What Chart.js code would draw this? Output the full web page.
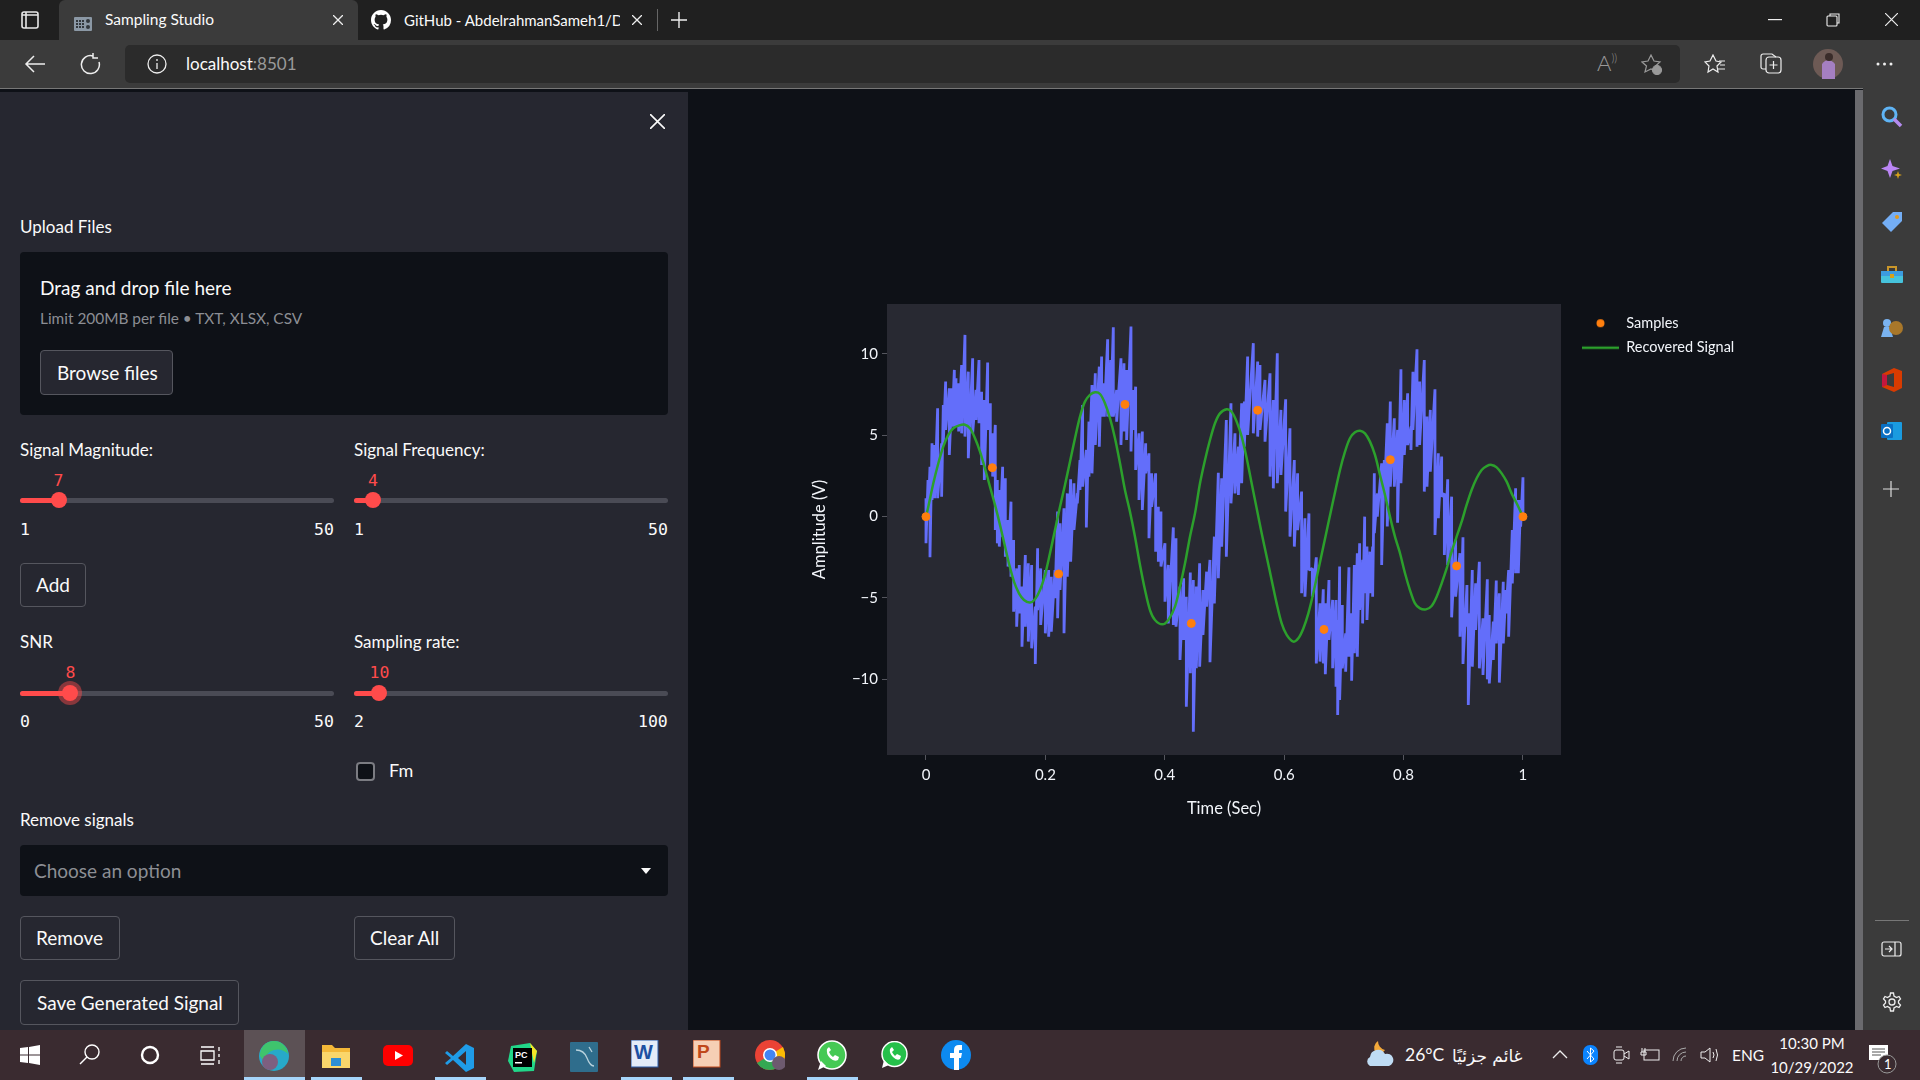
<!DOCTYPE html>
<html>
<head>
<meta charset="utf-8">
<title>Sampling Studio</title>
<script src="https://cdn.jsdelivr.net/npm/chart.js@4"></script>
<style>
html,body{margin:0;padding:0;width:1920px;height:1080px;overflow:hidden;background:#0e1117;font-family:Lato,"Noto Sans",sans-serif;color:#fafafa}
div,svg,canvas{position:absolute}
.t{position:absolute;white-space:nowrap;transform:translateY(-50%);font-size:17px;line-height:1}
.m{font-family:"DejaVu Sans Mono",monospace;font-size:16.5px}
.r{color:#ff4b4b;transform:translate(-50%,-50%)}
.btn{background:#262730;border:1px solid #55565e;border-radius:4px;box-sizing:border-box}
.track{height:5px;background:#4a4b55;border-radius:3px}
.fill{height:5px;background:#ff4b4b;border-radius:3px}
.thumb{width:16px;height:16px;border-radius:50%;background:#ff4b4b;transform:translate(-50%,-50%)}
.bar{height:3px;top:1077px;background:#a6d5fa}
</style>
</head>
<body>
<!-- browser chrome -->
<div style="left:0;top:0;width:1920px;height:40px;background:#202020"></div>
<div style="left:59px;top:0;width:299px;height:40px;background:#3b3b3b;border-radius:6px 6px 0 0"></div>
<div style="left:0;top:40px;width:1920px;height:48px;background:#3b3b3b"></div>
<div style="left:0;top:88px;width:1864px;height:1px;background:#777"></div>
<div style="left:125px;top:45px;width:1555px;height:38px;background:#2b2b2b;border-radius:5px"></div>
<svg style="left:21px;top:11px" width="18" height="18" viewBox="0 0 18 18" fill="none" stroke="#e8e8e8" stroke-width="1.6"><rect x="1" y="1" width="16" height="16" rx="2"/><path d="M5 1v16M1 4h16"/></svg>
<svg style="left:73px;top:12px" width="20" height="20" viewBox="0 0 20 20"><rect x="1" y="5" width="18" height="14" rx="1" fill="#8b98a5"/><g fill="#33383d"><rect x="3" y="8" width="2" height="2"/><rect x="6" y="8" width="2" height="2"/><rect x="9" y="8" width="2" height="2"/><rect x="3" y="11" width="2" height="2"/><rect x="6" y="11" width="2" height="2"/><rect x="9" y="11" width="2" height="2"/><rect x="3" y="14" width="2" height="2"/><rect x="6" y="14" width="2" height="2"/><rect x="9" y="14" width="2" height="2"/><circle cx="15" cy="9" r="2"/><circle cx="15" cy="15" r="2"/></g></svg>
<span class="t" style="left:105px;top:20px;font-size:15.5px">Sampling Studio</span>
<svg style="left:333px;top:15px" width="10" height="10" stroke="#eee" stroke-width="1.3"><path d="M0 0L10 10M10 0L0 10"/></svg>
<svg style="left:371px;top:10px" width="20" height="20" viewBox="0 0 16 16"><path fill="#fff" d="M8 0C3.58 0 0 3.58 0 8c0 3.54 2.29 6.53 5.47 7.59.4.07.55-.17.55-.38v-1.34c-2.23.48-2.7-1.07-2.7-1.07-.36-.93-.89-1.17-.89-1.17-.73-.5.05-.49.05-.49.8.06 1.23.82 1.23.82.71 1.22 1.87.87 2.33.66.07-.52.28-.87.5-1.07-1.78-.2-3.64-.89-3.64-3.95 0-.87.31-1.59.82-2.15-.08-.2-.36-1.02.08-2.12 0 0 .67-.21 2.2.82a7.6 7.6 0 0 1 4 0c1.53-1.04 2.2-.82 2.2-.82.44 1.1.16 1.92.08 2.12.51.56.82 1.27.82 2.15 0 3.07-1.87 3.75-3.65 3.95.29.25.54.73.54 1.48v2.2c0 .21.15.46.55.38A8 8 0 0 0 16 8c0-4.42-3.58-8-8-8z"/></svg>
<div style="left:404px;top:0;width:216px;height:40px;overflow:hidden"><span class="t" style="left:0;top:20px;font-size:15px">GitHub - AbdelrahmanSameh1/DSP</span></div>
<svg style="left:632px;top:15px" width="10" height="10" stroke="#eee" stroke-width="1.3"><path d="M0 0L10 10M10 0L0 10"/></svg>
<div style="left:657px;top:9px;width:1px;height:22px;background:#666"></div>
<svg style="left:671px;top:12px" width="16" height="16" stroke="#eee" stroke-width="1.4"><path d="M8 0V16M0 8H16"/></svg>
<svg style="left:1768px;top:19px" width="14" height="2"><rect width="14" height="1.2" fill="#eee"/></svg>
<svg style="left:1826px;top:13px" width="14" height="14" fill="none" stroke="#eee" stroke-width="1.1"><rect x="1" y="3" width="10" height="10" rx="1"/><path d="M4 3V1H13V10H11"/></svg>
<svg style="left:1885px;top:13px" width="13" height="13" stroke="#eee" stroke-width="1.2"><path d="M0 0L13 13M13 0L0 13"/></svg>
<svg style="left:24px;top:54px" width="22" height="20" fill="none" stroke="#eee" stroke-width="1.5"><path d="M21 10H2M10 2L2 10L10 18"/></svg>
<svg style="left:80px;top:53px" width="21" height="22" fill="none" stroke="#eee" stroke-width="1.5"><path d="M13 3A9 9 0 1 0 19 9M13 0V5H18"/></svg>
<svg style="left:147px;top:54px" width="20" height="20" fill="none" stroke="#eee" stroke-width="1.3"><circle cx="10" cy="10" r="9"/><path d="M10 9V15M10 5V7"/></svg>
<span class="t" style="left:186px;top:63px;font-size:17px">localhost<span style="color:#9a9a9a">:8501</span></span>
<span class="t" style="left:1597px;top:63px;font-size:22px;color:#999;font-weight:300">A<span style="font-size:11px;vertical-align:top">))</span></span>
<svg style="left:1641px;top:54px" width="22" height="21" viewBox="0 0 22 21" fill="none" stroke="#999" stroke-width="1.2"><path d="M10 1L13 7L19 8L14.5 12L16 18L10 15L4 18L5.5 12L1 8L7 7Z"/><circle cx="16" cy="16" r="4.5" fill="#999"/></svg>
<svg style="left:1704px;top:54px" width="22" height="20" viewBox="0 0 22 20" fill="none" stroke="#eee" stroke-width="1.2"><path d="M9 1L12 7L17 8L13 12L14 18L9 15L4 18L5 12L1 8L6 7Z"/><path d="M15 7H21M16 11H21M14 15H21"/></svg>
<svg style="left:1760px;top:53px" width="22" height="21" fill="none" stroke="#eee" stroke-width="1.2"><rect x="6" y="4" width="15" height="16" rx="3"/><path d="M6 16H3A2 2 0 0 1 1 14V3A2 2 0 0 1 3 1H12L16 4M13.5 8V16M9.5 12H17.5"/></svg>
<svg style="left:1813px;top:49px" width="30" height="30"><circle cx="15" cy="15" r="15" fill="#6d5a55"/><path d="M9 30V15Q15 7 22 15V30Z" fill="#a57fc2"/><circle cx="16" cy="8" r="4" fill="#3a2c2a"/></svg>
<svg style="left:1876px;top:62px" width="17" height="4" fill="#eee"><circle cx="2" cy="2" r="1.5"/><circle cx="8.5" cy="2" r="1.5"/><circle cx="15" cy="2" r="1.5"/></svg>

<!-- right browser sidebar -->
<div style="left:1855px;top:90px;width:8px;height:940px;background:#6a6a6e"></div>
<div style="left:1863px;top:88px;width:57px;height:942px;background:#3b3b3b"></div>
<svg style="left:1881px;top:106px" width="22" height="22" fill="none"><circle cx="8.5" cy="8.5" r="6.5" stroke="#5fb4f5" stroke-width="3"/><path d="M13 13L20 20" stroke="#b48bef" stroke-width="3.5"/></svg>
<svg style="left:1881px;top:159px" width="22" height="22"><path d="M9 0L11.5 7L19 9.500L11.5 12L9 19L6.500 12L0 9.500L6.500 7Z" fill="#bb86f5"/><path d="M17 12L18 15L21 16L18 17L17 20L16 17L13 16L16 15Z" fill="#d8a21b"/></svg>
<svg style="left:1881px;top:211px" width="22" height="22"><path d="M12 1H21V10L10 21L1 12Z" fill="#74aef5"/><circle cx="16" cy="6" r="2" fill="#e2991d"/></svg>
<svg style="left:1881px;top:266px" width="22" height="18"><rect y="5" width="22" height="12" rx="1" fill="#46c3dc"/><path d="M7 5V1H15V5" fill="none" stroke="#c9962a" stroke-width="2"/><rect y="5" width="22" height="5" fill="#3c9ce0"/><rect x="9" y="8" width="4" height="4" fill="#d8a21b"/></svg>
<svg style="left:1880px;top:317px" width="23" height="21"><circle cx="7" cy="6" r="4" fill="#7ab3f0"/><path d="M1 20L4 10H10L13 20Z" fill="#7ab3f0"/><circle cx="16" cy="11" r="7" fill="#a8772a"/></svg>
<svg style="left:1881px;top:368px" width="21" height="24"><path d="M13 0L21 3V20L13 24L1 19V6Z" fill="#d83b01"/><path d="M6 7L13 5V19L6 17Z" fill="#3b3b3b"/><path d="M1 6L6 7V17L1 19Z" fill="#c4163e"/></svg>
<svg style="left:1881px;top:421px" width="21" height="20"><rect x="6" y="1" width="15" height="18" rx="1" fill="#1a9be0"/><rect y="3" width="12" height="14" rx="1" fill="#0a6fc2"/><circle cx="6" cy="10" r="3.500" fill="none" stroke="#fff" stroke-width="1.500"/></svg>
<svg style="left:1883px;top:481px" width="16" height="16" stroke="#ddd" stroke-width="1.200"><path d="M8 0V16M0 8H16"/></svg>
<div style="left:1875px;top:920px;width:34px;height:1px;background:#777"></div>
<svg style="left:1881px;top:941px" width="21" height="16" fill="none" stroke="#eee" stroke-width="1.200"><rect x="1" y="1" width="19" height="14" rx="2"/><path d="M14 1V15M4 8H10M8 5L11 8L8 11"/></svg>
<svg style="left:1882px;top:992px" width="20" height="20" fill="none" stroke="#eee" stroke-width="1.300"><circle cx="10" cy="10" r="3"/><path d="M8.500 1H11.500L12 4L14.500 5.500L17 4.500L18.500 7L16.500 9L16.500 11L18.500 13L17 15.500L14.500 14.500L12 16L11.500 19H8.500L8 16L5.500 14.500L3 15.500L1.500 13L3.500 11L3.500 9L1.500 7L3 4.500L5.500 5.500L8 4Z"/></svg>

<!-- streamlit sidebar -->
<div style="left:0;top:92px;width:688px;height:938px;background:#262730"></div>
<svg style="left:650px;top:114px" width="15" height="15" stroke="#fafafa" stroke-width="1.600"><path d="M0 0L15 15M15 0L0 15"/></svg>
<span class="t" style="left:20px;top:226px">Upload Files</span>
<div style="left:20px;top:252px;width:648px;height:163px;background:#0e1117;border-radius:4px"></div>
<span class="t" style="left:40px;top:287px;font-size:19px">Drag and drop file here</span>
<span class="t" style="left:40px;top:319px;font-size:15.4px;color:#8c8e94">Limit 200MB per file • TXT, XLSX, CSV</span>
<div class="btn" style="left:40px;top:350px;width:133px;height:45px"></div>
<span class="t" style="left:57px;top:372px;font-size:19px">Browse files</span>

<span class="t" style="left:20px;top:449px">Signal Magnitude:</span>
<span class="t" style="left:354px;top:449px">Signal Frequency:</span>
<span class="t m r" style="left:58.500px;top:481px">7</span>
<div class="track" style="left:20px;top:498px;width:314px"></div>
<div class="fill" style="left:20px;top:498px;width:39px"></div>
<div class="thumb" style="left:58.500px;top:500px"></div>
<span class="t m" style="left:20px;top:530px">1</span>
<span class="t m" style="left:314px;top:530px">50</span>
<span class="t m r" style="left:373px;top:481px">4</span>
<div class="track" style="left:354px;top:498px;width:314px"></div>
<div class="fill" style="left:354px;top:498px;width:19px"></div>
<div class="thumb" style="left:373px;top:500px"></div>
<span class="t m" style="left:354px;top:530px">1</span>
<span class="t m" style="left:648px;top:530px">50</span>
<div class="btn" style="left:20px;top:563px;width:66px;height:44px"></div>
<span class="t" style="left:36px;top:584px;font-size:19px">Add</span>

<span class="t" style="left:20px;top:641px">SNR</span>
<span class="t" style="left:354px;top:641px">Sampling rate:</span>
<span class="t m r" style="left:70.500px;top:673px">8</span>
<div class="track" style="left:20px;top:691px;width:314px"></div>
<div class="fill" style="left:20px;top:691px;width:50px"></div>
<div class="thumb" style="left:70px;top:693px;width:24px;height:24px;background:rgba(255,75,75,.45)"></div>
<div class="thumb" style="left:70px;top:693px"></div>
<span class="t m" style="left:20px;top:722px">0</span>
<span class="t m" style="left:314px;top:722px">50</span>
<span class="t m r" style="left:379.500px;top:673px">10</span>
<div class="track" style="left:354px;top:691px;width:314px"></div>
<div class="fill" style="left:354px;top:691px;width:25px"></div>
<div class="thumb" style="left:379px;top:693px"></div>
<span class="t m" style="left:354px;top:722px">2</span>
<span class="t m" style="left:638px;top:722px">100</span>
<div style="left:356px;top:762px;width:19px;height:19px;box-sizing:border-box;background:#0e1117;border:2px solid #7b7c82;border-radius:4px"></div>
<span class="t" style="left:389px;top:770px;font-size:18px">Fm</span>

<span class="t" style="left:20px;top:819px">Remove signals</span>
<div style="left:20px;top:845px;width:648px;height:51px;background:#0e1117;border-radius:4px"></div>
<span class="t" style="left:34px;top:870px;font-size:19px;color:#8c8e94">Choose an option</span>
<svg style="left:641px;top:868px" width="10" height="6"><path d="M0 0H10L5 6Z" fill="#fafafa"/></svg>
<div class="btn" style="left:20px;top:916px;width:100px;height:44px"></div>
<span class="t" style="left:36px;top:937px;font-size:19px">Remove</span>
<div class="btn" style="left:354px;top:916px;width:101px;height:44px"></div>
<span class="t" style="left:370px;top:937px;font-size:19px">Clear All</span>
<div class="btn" style="left:20px;top:980px;width:219px;height:45px"></div>
<span class="t" style="left:37px;top:1002px;font-size:19px">Save Generated Signal</span>

<!-- chart -->
<canvas id="signalChart" width="1090" height="560" style="left:760px;top:284px"></canvas>

<!-- taskbar -->
<div style="left:0;top:1030px;width:1920px;height:50px;background:#3a2b30"></div>
<div style="left:244px;top:1030px;width:61px;height:50px;background:#5c5155"></div>
<div class="bar" style="left:244px;width:61px"></div>
<div class="bar" style="left:311px;width:51px"></div>
<div class="bar" style="left:435px;width:51px"></div>
<div class="bar" style="left:621px;width:51px"></div>
<div class="bar" style="left:683px;width:51px"></div>
<div class="bar" style="left:807px;width:51px"></div>
<svg style="left:20px;top:1045px" width="20" height="20" fill="#fff"><path d="M0 3L8 2V9.500H0ZM9 2L20 0V9.500H9ZM0 10.500H8V18L0 17ZM9 10.500H20V20L9 18Z"/></svg>
<svg style="left:79px;top:1044px" width="21" height="21" fill="none" stroke="#fff" stroke-width="1.400"><circle cx="13" cy="8" r="7"/><path d="M8 13L1 20"/></svg>
<svg style="left:140px;top:1045px" width="20" height="20" fill="none" stroke="#fff" stroke-width="2.400"><circle cx="10" cy="10" r="8"/></svg>
<svg style="left:200px;top:1046px" width="21" height="19" fill="none" stroke="#fff" stroke-width="1.300"><path d="M1 1H14M1 18H14M1 5H14V14H1ZM19 1V5M19 8V11M19 14V18"/></svg>
<svg style="left:258px;top:1040px" width="32" height="32"><circle cx="16" cy="16" r="15" fill="#27a9c9"/><path d="M2 16A14 14 0 0 1 30 14Q24 8 16 10Q8 12 6 22Z" fill="#3fc46d"/><circle cx="12" cy="22" r="8" fill="#7d5f80"/></svg>
<svg style="left:322px;top:1043px" width="28" height="25"><path d="M0 2H10L13 5H28V24H0Z" fill="#f4b838"/><path d="M0 9H28V25H0Z" fill="#fad66b"/><rect x="9" y="15" width="10" height="8" fill="#2d8fd5"/></svg>
<svg style="left:383px;top:1045px" width="30" height="21"><rect width="30" height="21" rx="5" fill="#f00"/><path d="M12 6L20 10.500L12 15Z" fill="#fff"/></svg>
<svg style="left:445px;top:1043px" width="30" height="30" viewBox="0 0 30 30"><path d="M21 1L29 5V25L21 29L8 17L2 22L0 20L6 15L0 10L2 8L8 13Z" fill="#1f9ce8"/><path d="M21 8L13 15L21 22Z" fill="#3a2b30"/></svg>
<svg style="left:508px;top:1043px" width="29" height="29"><path d="M3 3L22 0L29 8L26 28L6 29L0 18Z" fill="#21d789"/><path d="M22 0L29 8L26 20Z" fill="#f5e626"/><rect x="5" y="5" width="19" height="19" fill="#000"/><text x="7" y="15" font-size="9" font-weight="700" fill="#fff" font-family="Liberation Sans">PC</text><rect x="7" y="19" width="7" height="1.500" fill="#fff"/></svg>
<svg style="left:570px;top:1042px" width="28" height="30"><rect width="28" height="30" rx="1" fill="#2f6d8c"/><path d="M6 8Q14 8 17 16T24 24M19 5L22 10" fill="none" stroke="#b8d2dd" stroke-width="1.300"/></svg>
<svg style="left:631px;top:1040px" width="28" height="28"><rect width="27" height="27" fill="#e4ecf8" stroke="#2a5da8"/><text x="3" y="19" font-size="20" font-weight="700" fill="#1d50a2" font-family="Liberation Sans">W</text></svg>
<svg style="left:693px;top:1040px" width="28" height="28"><rect width="27" height="27" fill="#f6cfb5" stroke="#c0481b"/><text x="4" y="18" font-size="19" font-weight="700" fill="#c0481b" font-family="Liberation Sans">P</text></svg>
<svg style="left:755px;top:1040px" width="30" height="30"><circle cx="15" cy="15" r="15" fill="#ea4335"/><path d="M15 15L2 23A15 15 0 0 0 22 28Z" fill="#34a853"/><path d="M15 15L22 28A15 15 0 0 0 30 13L28 7Z" fill="#fbbc05"/><circle cx="15" cy="15" r="7" fill="#fff"/><circle cx="15" cy="15" r="5.500" fill="#4285f4"/><circle cx="24" cy="23" r="7" fill="#6d5a6f"/></svg>
<svg style="left:817px;top:1040px" width="30" height="30"><circle cx="15" cy="15" r="14" fill="#45c954" stroke="#fff" stroke-width="1.500"/><path d="M1 30L4 21L9 26Z" fill="#fff"/><path d="M10 9Q9 14 13 18T21 20L22 17L18 15L16 17Q13 15 12 12L14 10L12 7Z" fill="#fff"/></svg>
<svg style="left:881px;top:1041px" width="27" height="27"><circle cx="13.500" cy="13" r="12.500" fill="#25c04a" stroke="#fff" stroke-width="1.500"/><path d="M1 27L3 19L8 24Z" fill="#fff"/><path d="M9 8Q8 12 12 16T19 18L20 15L16 13L14 15Q12 13 11 11L13 9L11 6Z" fill="#fff"/></svg>
<svg style="left:941px;top:1040px" width="30" height="30"><circle cx="15" cy="15" r="15" fill="#0d8af0"/><path d="M13 30V18H9V13H13V10Q13 5 18 5H21V10H19Q18 10 18 11V13H21L20 18H18V30Z" fill="#fff"/></svg>
<svg style="left:1364px;top:1040px" width="30" height="28"><path d="M14 1A8 8 0 0 0 12 13A8 8 0 0 0 21 10A9 9 0 0 1 14 1Z" fill="#f2a83a"/><path d="M6 26A5 5 0 0 1 6 17A8 8 0 0 1 21 14A6 6 0 0 1 25 26Z" fill="#bfdcf4"/></svg>
<span class="t" style="left:1405px;top:1055px;font-size:17.5px">26°C</span>
<span class="t" dir="rtl" style="left:1452px;top:1056px;font-size:17px;font-family:'DejaVu Sans'">غائم جزئيًا</span>
<svg style="left:1552px;top:1049px" width="16" height="10" fill="none" stroke="#eee" stroke-width="1.300"><path d="M1 9L8 2L15 9"/></svg>
<svg style="left:1583px;top:1045px" width="15" height="20"><rect width="15" height="20" rx="7" fill="#0a84ff"/><path d="M4 6L11 14L7.500 17V3L11 6L4 14" fill="none" stroke="#fff"/></svg>
<svg style="left:1613px;top:1046px" width="17" height="18" fill="none" stroke="#eee"><rect x="1" y="4" width="10" height="10" rx="2"/><path d="M11 8L16 5V13L11 10M3 1H9M3 17H9"/></svg>
<svg style="left:1640px;top:1048px" width="20" height="13" fill="none" stroke="#eee"><rect x="4" y="2" width="15" height="10"/><path d="M2 0V4M5 0V4M1 4H6V7H1Z"/></svg>
<svg style="left:1672px;top:1046px" width="16" height="18" fill="none" stroke="#aaa"><path d="M1 15A13 13 0 0 1 14 2M5 15A9 9 0 0 1 14 6M9 15A5 5 0 0 1 14 10"/></svg>
<svg style="left:1700px;top:1047px" width="19" height="16" fill="none" stroke="#eee"><path d="M1 5H5L10 1V15L5 11H1ZM13 5Q15 8 13 11M16 2Q19 8 16 14"/></svg>
<span class="t" style="left:1732px;top:1056px;font-size:15.500px">ENG</span>
<span class="t" style="left:1812px;top:1043px;font-size:15px;transform:translate(-50%,-50%)">10:30 PM</span>
<span class="t" style="left:1812px;top:1067px;font-size:15px;transform:translate(-50%,-50%)">10/29/2022</span>
<svg style="left:1869px;top:1045px" width="30" height="30"><path d="M0 0H19V15H0Z" fill="#fff"/><path d="M3 4H16M3 7H16M3 10H12" stroke="#555"/><circle cx="18" cy="19" r="9" fill="#3a2b30" stroke="#999"/><text x="15" y="24" font-size="13" fill="#fff" font-family="Lato">1</text></svg>

<script>
// значения
const xTicks = [0, 0.2, 0.4, 0.6, 0.8, 1];
const yTicks = [-10, -5, 0, 5, 10];

const sampleTimes = [0, 0.1111, 0.2222, 0.3333, 0.4444, 0.5556, 0.6667, 0.7778, 0.8889, 1];
const sampleValues = [0, 3.01, -3.52, 6.9, -6.56, 6.54, -6.93, 3.5, -3.03, 0];

const recoveredTimes = [0, .0039, .0123, .0207, .029, .0374, .0458, .0558, .0642, .0737, .0821, .0905, .0988, .1072, .1156, .124, .1324, .1396, .1474, .1558, .1642, .1742, .1826, .191, .1993, .2077, .2161, .2245, .2328, .2412, .2496, .258, .2663, .2747, .2831, .2915, .2998, .3082, .3166, .325, .3333, .3417,
    .3501, .3585, .3669, .3752, .3836, .3959, .4059, .4171, .4255, .4339, .4422, .4506, .459, .4674, .4757, .4841, .4925, .5037, .512, .5204, .5288, .5372, .5455, .5539, .5623, .5707, .579, .5874, .5958, .6042, .6153, .6237, .6321, .6405, .6488, .6572, .6656, .6739, .6823,
    .6935, .7019, .7102, .7186, .727, .7353, .7437, .7521, .7605, .7689, .7772, .7856, .794, .8024, .8107, .8191, .8275, .8375, .847, .8554, .8638, .8722, .8805, .8889, .8973, .9056, .914, .9224, .9308, .9392, .9475, .9559, .9643, .9727, .981, .9894, 1];
const recoveredValues = [0, .61, 2.05, 3.28, 4.3, 5.02, 5.43, 5.61, 5.66, 5.43, 4.82, 4, 2.97, 1.84, .72, -.51, -1.84, -2.97, -3.99, -4.71, -5.12, -5.28, -5.08, -4.51, -3.59, -2.25, -.82, .61, 1.94, 3.38, 4.82, 6.15, 7.07, 7.48, 7.64, 7.54, 6.97, 6.05, 4.82, 3.28, 1.64, .3,
    -1.23, -2.97, -4.51, -5.74, -6.35, -6.62, -6.35, -5.53, -4.3, -2.87, -1.23, .2, 2.05, 3.48, 4.71, 5.74, 6.35, 6.6, 6.45, 5.84, 4.92, 3.59, 2.05, .51, -1.02, -2.46, -3.89, -5.33, -6.56, -7.27, -7.68, -7.48, -6.87, -5.94, -4.71, -3.28, -1.84, -.41, 1.02,
    2.87, 4, 4.82, 5.18, 5.28, 5.12, 4.61, 3.79, 2.56, 1.33, 0, -1.23, -2.25, -3.48, -4.51, -5.33, -5.64, -5.7, -5.49, -4.92, -4.1, -3.18, -2.15, -1.23, -.31, .72, 1.64, 2.36, 2.87, 3.11, 3.18, 3.03, 2.66, 2.15, 1.43, .82, 0];

// шумный сигнал: верх и низ полосы
const signalTimes = [0, .0034, .0067, .0101, .0145, .0195, .0262, .029, .0329, .0391, .0436, .0475, .0503, .0547, .0597, .0653, .0709, .0782, .0838, .0888, .0932, .0977, .1033, .1078, .1117, .1161, .1195, .1228, .1284, .1329, .1374, .1424, .1468, .1519, .1563, .1608, .1664, .1714, .177, .1831, .187, .1921, .1999, .2055, .2099, .2161, .2205, .2245, .2312, .2367, .2423, .2479, .2535, .258, .2624, .2686, .273, .2781, .2836, .2903, .2942, .2987, .3043, .3093, .3138, .3194, .3266, .3317, .3361,
    .3434, .3467, .3512, .3568, .3624, .368, .3735, .378, .3847, .3892, .3936, .4003, .4059, .4143, .4188, .4255, .4316, .4361, .4428, .4478, .4528, .4584, .464, .4701, .4757, .483, .4897, .4953, .5031, .5109, .5176, .5233, .5288, .5333, .5388, .5483, .5556, .5595, .5679, .5763, .5818, .5885, .5946, .6025, .6097, .617, .6225, .6292, .6348, .6415, .6471, .6538, .66, .6655, .6689, .675, .6812,
    .6868, .6896, .6929, .6974, .703, .7085, .713, .7175, .7225, .7264, .7314, .7348, .7387, .7437, .7482, .751, .756, .7633, .7677, .7727, .7778, .7845, .79, .7956, .8012, .8068, .8124, .8157, .8225, .8269, .8347, .8392, .8448, .8526, .8582, .8638, .8683, .8739, .8805, .8872, .8945, .8995, .9062, .9084, .9151, .9207, .9269, .933, .9403, .9436, .9503, .9553, .9604, .967, .9715, .976, .9821, .9877, .9922, .9961, 1];
const signalHigh = [1.13, 2.25, 3.07, 4.51, 4.41, 6.66, 4.51, 6.86, 8.3, 7.89, 7.89, 9.02, 8.5, 8.2, 9.32, 11.17, 8.91, 9.73, 7.79, 9.63, 7.68, 7.17, 9.47, 6.97, 5.12, 5.64, 2.25, 1.64, 3.07, 2.36, -.2, .92, -1.43, -3.18, -2.97, -4.3, -2.36, -2.87, -2.97, -5.53, -1.95, -3.18, -3.28, -3.28, -3.69, -3.28, .31, -.41, .51, 1.43, 2.3, 2.05, 1.43, 3.48, 6.86, 4.1, 5.84, 8.09, 8.81, 9.22, 9.84, 8.2, 10.9, 9.63, 11.64, 7.79, 9.73, 9.43, 9.02,
    11.68, 7.79, 7.99, 5.12, 5.23, 4.51, 3.89, 2.66, 2.66, .61, .31, -1.64, -2.97, -.66, -1.33, -4.3, -3.79, -4.92, -3.44, -3.89, -4.3, -2.87, -4.51, -3.38, -2.66, -1.23, 2.7, 2.36, 5.94, 6.97, 5.12, 4.3, 6.97, 7.07, 9.84, 10.66, 9.53, 9.32, 8.4, 8.81, 7.17, 10.04, 6.56, 7.21, 5.43, 3.48, 2.66, 1.54, -.1, .2, -3.18, -2.5, -5.33, -4.47, -5.33, -3.89, -5.12,
    -5.12, -6.35, -3.07, -5.43, -7.17, -3.11, -5.94, -2.97, -2.25, -1.64, -2.66, 0, -1.84, -2.15, -1.84, 2.66, 1.43, 3.28, 3.48, 5.74, 7.07, 6.05, 5.33, 9.06, 7.17, 7.58, 5.53, 8.91, 10.29, 8.3, 9.63, 6.15, 6.56, 7.83, 3.89, 3.69, 1.43, 2.3, 1.23, -1.43, -2.25, -1.27, -4.2, -5.94, -3.28, -4.1, -2.77, -6.25, -3.85, -6.05, -6.45, -3.93, -4.71, -4, -4.51, -3.28, -.82, 1.74, 1.02, 1.02, 2.42];
const signalLow = [-1.64, -.2, -2.5, 1.02, 1.13, 1.13, 1.23, 4.51, 5.33, 3.79, 5.53, 5.53, 5.53, 5.23, 5.12, 4.92, 3.59, 5.12, 5.94, 5.74, 3.18, 2.25, 5.33, 2.87, 2.46, -.82, -1.64, -1.84, -1.23, -2.46, -3.07, -3.69, -5.84, -6.76, -5.94, -7.99, -6.76, -7.68, -8.09, -9.06, -5.74, -6.66, -7.17, -7.38, -7.07, -5.02, -6.25, -4.51, -7.17, -3.69, -2.77, -.82, .82, 1.64, 1.84, -.66, 2.46, 2.66, 4.41, 4.3, 6.15, 6.15, 6.15, 6.15, 6.15, 5.84, 4.41, 5.23, 4.71,
    4, 5.33, 2.87, 1.02, .41, 2.66, -1.33, .61, -2.15, -2.77, -3.07, -5.23, -6.56, -6.66, -6.76, -8.81, -7.58, -11.68, -9.63, -13.22, -9.32, -9.22, -7.27, -5.53, -8.95, -5.33, -3.79, -1.84, -2.46, .82, 1.43, 1.33, 2.05, 4.3, 5.02, 5.12, 4.92, 5.33, 4.61, 2.46, 1.74, 2.05, 2.56, .31, -1.23, -1.84, -.82, -4.71, -4.92, -3.28, -4.92, -9.02, -8.91, -9.02, -9.69, -7.58, -9.32,
    -10.45, -12.19, -11.27, -9.32, -9.53, -8.61, -10.08, -8.4, -8.61, -5.74, -6.56, -4.71, -6.35, -4.71, -4.92, -1.02, 0, -2.97, 1.23, -.61, 1.84, 1.84, -.37, 2.05, 3.79, 4.41, 4.1, 5.33, 4.3, 4.41, 1.54, 1.84, 2.77, -1.13, -.1, 1.23, -2.36, -2.97, -6.19, -4.92, -7.38, -9.06, -6.76, -11.58, -9.22, -6.97, -9.32, -9.73, -10, -10.25, -8.81, -7.79, -10.2, -7.79, -5.94, -7.38, -4.1, -3.48, -3.48, -.61, 0];

const plotBackground = '#282932';
const axisTextColor = '#f2f5fa';

function pointsFrom(times, values) {
    return times.map((t, i) => ({ x: t, y: values[i] }));
}

// полоса сигнала: зигзаг верх-низ
const signalPoints = [];
signalTimes.forEach((t, i) => {
    signalPoints.push({ x: t, y: signalHigh[i] });
    signalPoints.push({ x: t, y: signalLow[i] });
});

// значки легенды
function legendIcon(draw) {
    const c = document.createElement('canvas');
    c.width = 37;
    c.height = 12;
    draw(c.getContext('2d'));
    return c;
}
const sampleIcon = legendIcon(g => {
    g.fillStyle = '#ff7f0e';
    g.beginPath();
    g.arc(18.5, 6, 4, 0, Math.PI * 2);
    g.fill();
});
const recoveredIcon = legendIcon(g => {
    g.strokeStyle = '#2ca02c';
    g.lineWidth = 2.5;
    g.beginPath();
    g.moveTo(0, 6);
    g.lineTo(37, 6);
    g.stroke();
});

const plotArea = {
    id: 'plotArea',
    beforeDraw(chart) {
        const a = chart.chartArea;
        chart.ctx.fillStyle = plotBackground;
        chart.ctx.fillRect(a.left, a.top, a.right - a.left, a.bottom - a.top);
    },
    // легенда справа от графика
    afterLayout(chart) {
        const legend = chart.legend;
        const w = legend.width;
        const h = legend.height;
        legend.left = 812;
        legend.right = 812 + w + 20;
        legend.top = 22;
        legend.bottom = 22 + h + 20;
    }
};

new Chart(document.getElementById('signalChart'), {
    type: 'scatter',
    data: {
        datasets: [
            {
                label: 'Signal',
                data: signalPoints,
                showLine: true,
                borderColor: '#636efa',
                borderWidth: 2.8,
                borderJoinStyle: 'bevel',
                pointRadius: 0,
                order: 3
            },
            {
                label: 'Samples',
                data: pointsFrom(sampleTimes, sampleValues),
                showLine: false,
                backgroundColor: '#ff7f0e',
                borderColor: '#ff7f0e',
                pointRadius: 4,
                order: 1
            },
            {
                label: 'Recovered Signal',
                data: pointsFrom(recoveredTimes, recoveredValues),
                showLine: true,
                borderColor: '#2ca02c',
                borderWidth: 2.5,
                tension: 0.3,
                pointRadius: 0,
                order: 2
            }
        ]
    },
    options: {
        responsive: false,
        animation: false,
        layout: { padding: { top: 20, right: 289 } },
        font: { family: 'Lato' },
        scales: {
            x: {
                type: 'linear',
                min: -0.0653,
                max: 1.0637,
                grid: { drawOnChartArea: false, tickLength: 5, tickColor: '#55565e' },
                border: { display: false },
                afterBuildTicks: axis => { axis.ticks = xTicks.map(v => ({ value: v })); },
                afterFit: axis => { axis.height = 89; },
                ticks: {
                    color: axisTextColor,
                    font: { family: 'Lato', size: 15 },
                    padding: 6,
                    maxRotation: 0,
                    autoSkip: false,
                    callback: v => String(v)
                },
                title: {
                    display: true,
                    text: 'Time (Sec)',
                    color: axisTextColor,
                    font: { family: 'Lato', size: 16.5 },
                    padding: { top: 0, bottom: 25 }
                }
            },
            y: {
                type: 'linear',
                min: -14.65,
                max: 13.07,
                grid: { drawOnChartArea: false, tickLength: 5, tickColor: '#55565e' },
                border: { display: false },
                afterBuildTicks: axis => { axis.ticks = yTicks.map(v => ({ value: v })); },
                afterFit: axis => { axis.width = 127; },
                ticks: {
                    color: axisTextColor,
                    font: { family: 'Lato', size: 15 },
                    padding: 4,
                    autoSkip: false,
                    callback: v => (v < 0 ? '\u2212' + Math.abs(v) : String(v))
                },
                title: {
                    display: true,
                    text: 'Amplitude (V)',
                    color: axisTextColor,
                    font: { family: 'Lato', size: 16.5 },
                    padding: { top: 50, bottom: 0 }
                }
            }
        },
        plugins: {
            tooltip: { enabled: false },
            legend: {
                position: 'chartArea',
                align: 'start',
                labels: {
                    color: axisTextColor,
                    font: { family: 'Lato', size: 14.5 },
                    usePointStyle: true,
                    pointStyleWidth: 37,
                    boxHeight: 12,
                    padding: 10,
                    filter: item => item.text !== 'Signal',
                    generateLabels: chart => chart.data.datasets.map((d, i) => ({
                        text: d.label,
                        datasetIndex: i,
                        fontColor: axisTextColor,
                        lineWidth: 0,
                        strokeStyle: 'transparent',
                        fillStyle: 'transparent',
                        pointStyle: d.label === 'Samples' ? sampleIcon : recoveredIcon
                    }))
                }
            }
        }
    },
    plugins: [plotArea]
});
</script>
</body>
</html>
